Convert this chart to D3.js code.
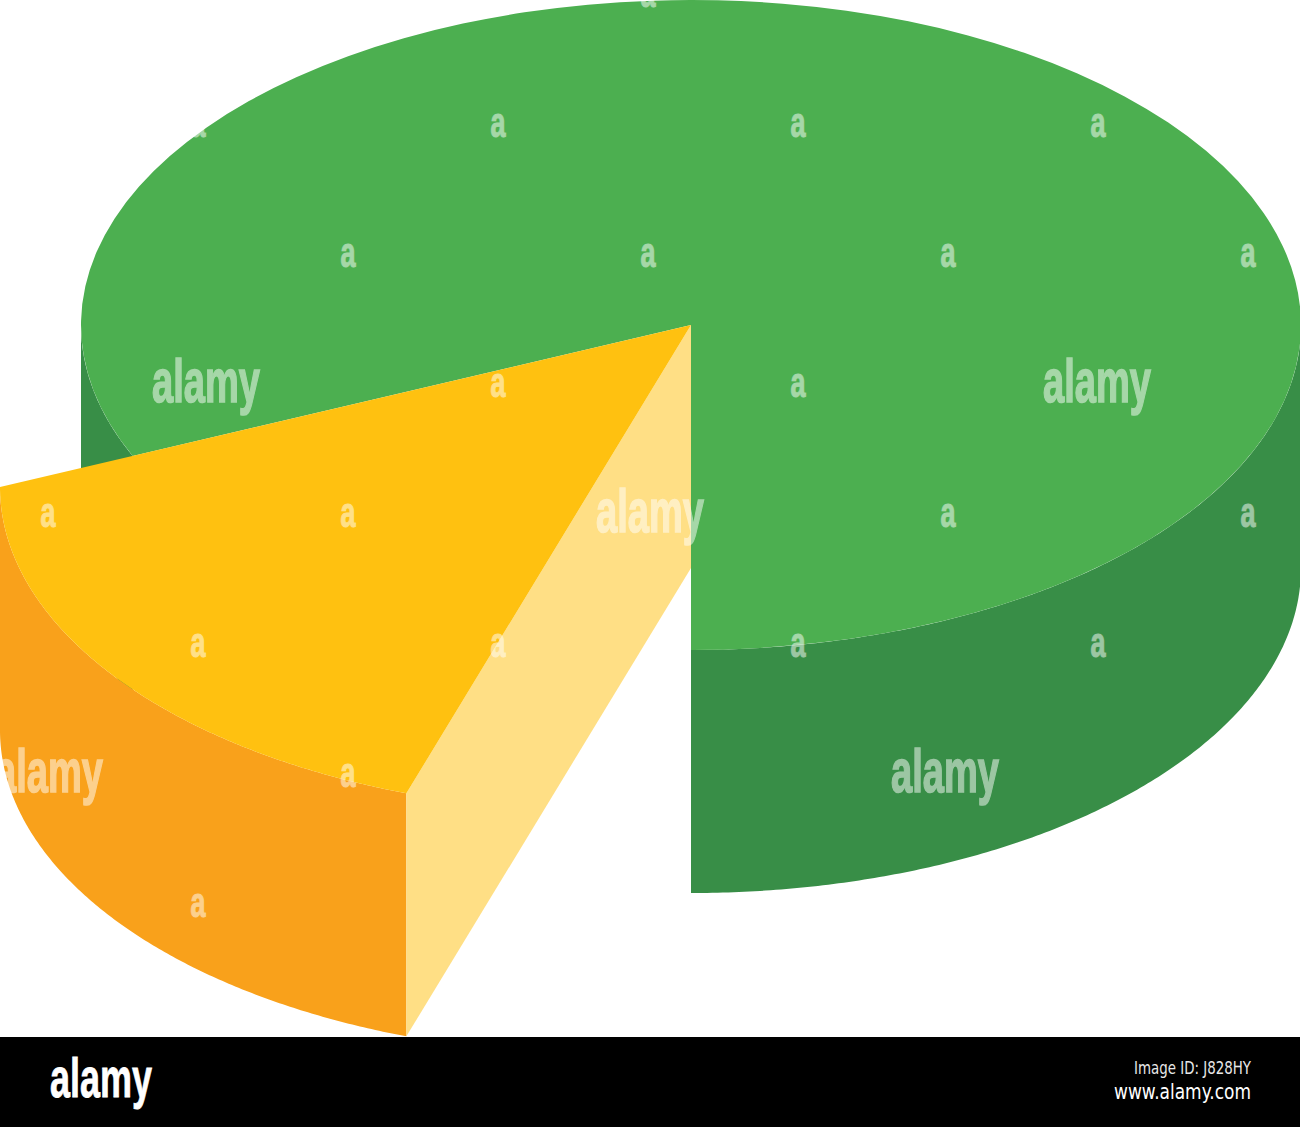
<!DOCTYPE html>
<html>
<head>
<meta charset="utf-8">
<script src="https://cdn.jsdelivr.net/npm/d3@7"></script>
<style>
html,body{margin:0;padding:0;background:#fff;overflow:hidden}
svg{display:block}
</style>
</head>
<body>
<svg id="chart" width="1300" height="1127"></svg>
<script>
const categories = ["Yellow share", "Green share"];
const shares = [18.4, 81.6];
const topColors = ["#ffc110", "#4caf50"];
const wallColors = ["#f9a11b", "#388e47"];
const cutColor = "#ffdf85";
const footerLogo = "alamy";
const footerLines = ["Image ID: J828HY", "www.alamy.com"];

const W = 1300, H = 1127, footerTop = 1037;
const center = [691, 325], yellowCenter = [610, 487];
const rx = 610, ry = 325, depth = 243, k = ry / rx;
const yellowNear = 199.5 * Math.PI / 180, yellowFar = 3 * Math.PI / 2;

const svg = d3.select("#chart");
const pie = d3.pie().sort(null).value(d => d).startAngle(Math.PI).endAngle(3 * Math.PI);
const arcs = pie(shares);
const yellowArc = arcs[0], greenArc = arcs[1];

const onRim = (c, a, dy = 0) => {
  const [px, py] = d3.pointRadial(a, rx);
  return [c[0] + px, c[1] + py * k + dy];
};
const sweep = (a0, a1) => d3.range(0, 181).map(i => a0 + (a1 - a0) * i / 180);

const wall = c => d3.area()
  .x(a => onRim(c, a)[0])
  .y0(a => onRim(c, a)[1])
  .y1(a => onRim(c, a, depth)[1]);

// Green body
svg.append("path").attr("fill", wallColors[1])
  .attr("d", wall(center)(sweep(Math.PI / 2, Math.PI)));
svg.append("path").attr("fill", wallColors[1])
  .attr("d", wall(center)(sweep(greenArc.startAngle, 3 * Math.PI / 2)));
svg.append("path").attr("fill", topColors[1])
  .attr("transform", `translate(${center}) scale(1,${k})`)
  .attr("d", d3.arc().innerRadius(0).outerRadius(rx)(greenArc));

// Yellow wedge
const line = d3.line();
svg.append("path").attr("fill", wallColors[0])
  .attr("d", wall(yellowCenter)(sweep(yellowNear, yellowFar)));
const corner = onRim(yellowCenter, yellowNear);
svg.append("path").attr("fill", cutColor)
  .attr("d", line([center, [center[0], center[1] + depth], [corner[0], corner[1] + depth], corner]) + "Z");
svg.append("path").attr("fill", topColors[0])
  .attr("d", line([center, ...sweep(yellowFar, yellowNear).map(a => onRim(yellowCenter, a))]) + "Z");

// Stock-image watermarks
const mark = (txt, x, baseline, size, len, heft) => svg.append("text")
  .attr("x", x).attr("y", baseline)
  .attr("font-family", "Liberation Sans").attr("font-weight", 700)
  .attr("font-size", size).attr("fill", "#fff").attr("opacity", 0.5)
  .attr("stroke", "#fff").attr("stroke-width", heft)
  .attr("textLength", len).attr("lengthAdjust", "spacingAndGlyphs")
  .text(txt);

const bigMarks = [[152, 402], [1043, 402], [596, 532], [-5, 792], [891, 792]];
bigMarks.forEach(([x, y]) => mark("alamy", x, y, 62, 108, 1.6));

const smallRows = [
  [-5, [48, 348, 648, 948, 1248]],
  [125, [198, 498, 798, 1098]],
  [255, [48, 348, 648, 948, 1248]],
  [385, [498, 798]],
  [515, [48, 348, 948, 1248]],
  [645, [198, 498, 798, 1098]],
  [775, [348]],
  [905, [198]]
];
smallRows.forEach(([y, xs]) => xs.forEach(x => mark("a", x - 7.5, y + 12, 42, 15, 1)));

// Footer
svg.append("rect").attr("x", 0).attr("y", footerTop).attr("width", W).attr("height", H - footerTop).attr("fill", "#000");
svg.append("text").attr("x", 50).attr("y", 1097)
  .attr("font-family", "Liberation Sans").attr("font-weight", 700).attr("font-size", 56).attr("fill", "#fff")
  .attr("stroke", "#fff").attr("stroke-width", 0.8)
  .attr("textLength", 102).attr("lengthAdjust", "spacingAndGlyphs").text(footerLogo);
svg.append("text").attr("x", 1134).attr("y", 1074)
  .attr("font-family", "DejaVu Sans").attr("font-size", 18).attr("fill", "#e8e8e8")
  .attr("textLength", 117).attr("lengthAdjust", "spacingAndGlyphs").text(footerLines[0]);
svg.append("text").attr("x", 1114).attr("y", 1099)
  .attr("font-family", "DejaVu Sans").attr("font-size", 21).attr("fill", "#fff")
  .attr("textLength", 137).attr("lengthAdjust", "spacingAndGlyphs").text(footerLines[1]);
</script>
</body>
</html>
